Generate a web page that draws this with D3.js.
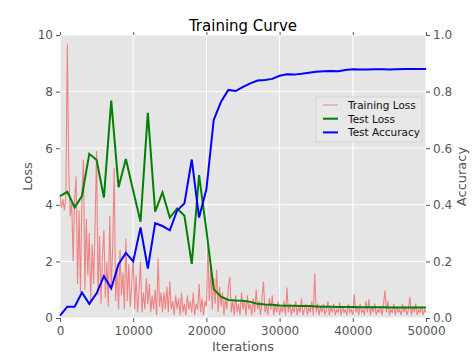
<!DOCTYPE html>
<html><head><meta charset="utf-8">
<script src="https://cdn.jsdelivr.net/npm/d3@7"></script>
<style>body{margin:0;background:#fff}svg{display:block;font-family:"DejaVu Sans",sans-serif}</style>
</head><body><svg id="c" width="474" height="355"></svg>
<script>
// ---- data ----
const trainStep = 200;
const trainLoss = [
 4.3,3.9,4.2,3.8,4.3,9.7,5.2,3.6,4.1,2.0,
 4.2,5.0,1.2,3.8,0.9,4.4,5.6,1.0,3.5,1.5,
 3.0,0.6,2.6,1.2,3.4,5.9,0.8,2.9,0.5,2.2,
 3.1,0.7,2.0,0.4,3.6,1.0,2.5,5.3,0.6,1.8,
 0.3,2.4,0.8,1.6,0.3,2.8,0.6,1.9,0.4,1.2,
 2.2,0.3,1.5,0.2,1.0,2.0,0.2,0.9,0.3,1.4,
 0.5,1.2,0.2,0.8,0.3,1.0,0.1,2.1,0.4,0.9,
 0.2,0.9,0.3,1.1,0.2,1.3,0.3,0.6,0.1,0.8,
 0.3,0.7,0.1,0.9,0.2,0.5,0.1,0.8,0.3,0.6,
 0.2,0.9,0.1,0.5,0.3,1.2,0.2,0.7,0.1,0.6,
 0.4,2.6,0.6,1.8,0.3,1.4,0.5,1.7,0.2,1.1,
 0.4,0.9,0.1,0.7,0.3,1.1,1.45,0.2,0.6,0.1,
 0.8,0.2,0.5,0.1,0.9,0.3,0.6,0.1,0.8,0.3,
 0.5,0.1,0.7,0.2,1.0,0.3,0.6,0.1,0.7,1.3,
 0.2,0.5,0.1,0.7,0.3,0.8,0.1,0.5,0.2,0.6,
 0.1,0.4,0.2,0.6,0.1,1.08,0.2,0.5,0.1,0.4,
 0.2,0.6,0.1,0.4,0.2,0.7,0.1,0.3,0.5,0.1,
 0.4,0.2,0.6,0.1,1.58,0.2,0.5,0.1,0.4,0.2,
 0.5,0.1,0.3,0.6,0.1,0.4,0.2,0.5,0.1,0.3,
 0.2,0.55,0.1,0.4,0.2,0.3,0.1,0.5,0.2,0.3,
 0.1,0.85,0.2,0.4,0.1,0.5,0.2,0.3,0.1,0.6,
 0.2,0.66,0.1,0.4,0.2,0.5,0.1,0.3,0.2,0.4,
 0.1,0.5,0.97,0.2,0.6,0.1,0.3,0.2,0.5,0.1,
 0.4,0.2,0.3,0.1,0.5,0.2,0.4,0.1,0.3,0.75,
 0.1,0.4,0.2,0.5,0.1,0.3,0.2,0.4,0.1,0.3,0.2
];
const testStep = 1000;
const testLoss = [
 4.31,4.46,3.91,4.31,5.80,5.58,4.26,7.68,4.62,5.62,
 4.50,3.40,7.25,3.76,4.44,3.55,3.87,3.61,1.91,5.05,
 3.10,1.02,0.75,0.64,0.62,0.61,0.57,0.50,0.48,0.47,
 0.44,0.43,0.43,0.42,0.42,0.41,0.40,0.40,0.39,0.39,
 0.39,0.38,0.38,0.38,0.38,0.37,0.37,0.37,0.37,0.37,0.37
];
const testAcc = [
 0.008,0.04,0.04,0.09,0.05,0.087,0.148,0.105,0.19,0.23,
 0.20,0.32,0.175,0.335,0.325,0.31,0.38,0.405,0.56,0.355,
 0.455,0.70,0.764,0.806,0.802,0.817,0.829,0.839,0.841,0.845,
 0.856,0.861,0.860,0.863,0.867,0.870,0.872,0.873,0.872,0.876,
 0.879,0.878,0.878,0.879,0.879,0.878,0.879,0.880,0.880,0.880,0.880
];
const xTicks = [0,10000,20000,30000,40000,50000];
const lossTicks = [0,2,4,6,8,10];
const accTicks = [0,0.2,0.4,0.6,0.8,1.0];
const legendLabels = ["Training Loss","Test Loss","Test Accuracy"];
const colors = ["#f07878","#008000","#0000ff"];

// ---- layout ----
const svg = d3.select("#c");
const L = 60, R = 426, T = 35, B = 318;
const x = d3.scaleLinear().domain([0,50000]).range([L,R]);
const yL = d3.scaleLinear().domain([0,10]).range([B,T]);
const yR = d3.scaleLinear().domain([0,1]).range([B,T]);

svg.append("rect").attr("x",L).attr("y",T).attr("width",R-L).attr("height",B-T).attr("fill","#e5e5e5");

// grid
const g = svg.append("g");
g.selectAll("line.v").data(xTicks).join("line")
 .attr("x1",d=>x(d)).attr("x2",d=>x(d)).attr("y1",T).attr("y2",B)
 .attr("stroke","#fff").attr("stroke-width",1);
g.selectAll("line.h").data(lossTicks).join("line")
 .attr("x1",L).attr("x2",R).attr("y1",d=>yL(d)).attr("y2",d=>yL(d))
 .attr("stroke","#fff").attr("stroke-width",1);

function styleAxis(sel){
  sel.select(".domain").remove();
  sel.selectAll(".tick line").attr("stroke","#555");
  sel.selectAll(".tick text").attr("fill","#555").style("font-size","12px").style("font-family","DejaVu Sans");
}
svg.append("g").attr("transform",`translate(0,${B})`)
 .call(d3.axisBottom(x).tickValues(xTicks).tickSize(4).tickPadding(4).tickFormat(d3.format("d"))).call(styleAxis);
svg.append("g").attr("transform",`translate(0,${T})`)
 .call(d3.axisTop(x).tickValues(xTicks).tickSize(3).tickFormat(""))
 .call(styleAxis);
svg.append("g").attr("transform",`translate(${L},0)`)
 .call(d3.axisLeft(yL).tickValues(lossTicks).tickSize(4).tickPadding(3).tickFormat(d3.format("d"))).call(styleAxis);
svg.append("g").attr("transform",`translate(${R},0)`)
 .call(d3.axisRight(yR).tickValues(accTicks).tickSize(4).tickPadding(3).tickFormat(d3.format(".1f"))).call(styleAxis);

// lines
const lineTrain = d3.line().x((d,i)=>x(i*trainStep)).y(d=>yL(d));
const lineTest = d3.line().x((d,i)=>x(i*testStep)).y(d=>yL(d));
const lineAcc = d3.line().x((d,i)=>x(i*testStep)).y(d=>yR(d));
svg.append("path").datum(trainLoss).attr("d",lineTrain).attr("fill","none")
 .attr("stroke",colors[0]).attr("stroke-width",1.1).attr("stroke-opacity",0.9);
svg.append("path").datum(testLoss).attr("d",lineTest).attr("fill","none")
 .attr("stroke",colors[1]).attr("stroke-width",2);
svg.append("path").datum(testAcc).attr("d",lineAcc).attr("fill","none")
 .attr("stroke",colors[2]).attr("stroke-width",2);

// labels
svg.append("text").attr("x",(L+R)/2).attr("y",31).attr("text-anchor","middle")
 .style("font-size","15px").attr("fill","#000").text("Training Curve");
svg.append("text").attr("x",(L+R)/2).attr("y",351).attr("text-anchor","middle")
 .style("font-size","13px").attr("fill","#555").text("Iterations");
svg.append("text").attr("transform",`translate(32,${(T+B)/2}) rotate(-90)`).attr("text-anchor","middle")
 .style("font-size","13px").attr("fill","#555").text("Loss");
svg.append("text").attr("transform",`translate(466,${(T+B)/2}) rotate(-90)`).attr("text-anchor","middle")
 .style("font-size","13px").attr("fill","#555").text("Accuracy");

// legend
const lg = svg.append("g");
lg.append("rect").attr("x",316).attr("y",97).attr("width",106).attr("height",45)
 .attr("fill","#e8e8e8").attr("stroke","#cfcfcf").attr("stroke-width",0.8);
legendLabels.forEach((t,i)=>{
  const yy = 105 + i*13.7;
  lg.append("line").attr("x1",323).attr("x2",338).attr("y1",yy).attr("y2",yy)
    .attr("stroke",colors[i]).attr("stroke-width",i===0?1.5:2).attr("stroke-opacity",i===0?0.6:1);
  lg.append("text").attr("x",348).attr("y",yy+3.8).style("font-size","10.5px").attr("fill","#111").text(t);
});
</script></body></html>
